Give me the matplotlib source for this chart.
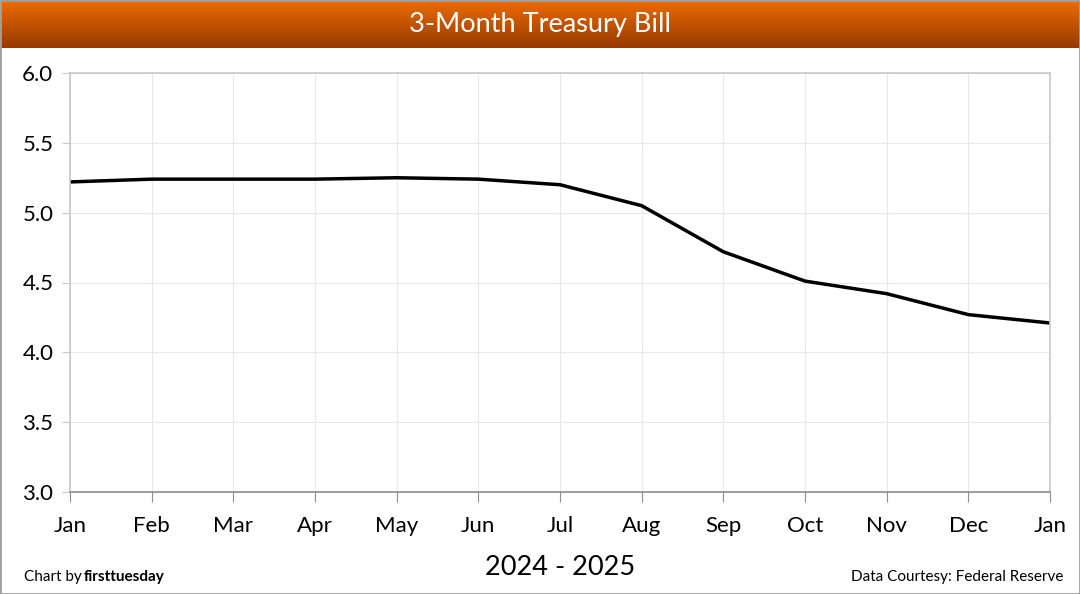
import numpy as np
import matplotlib
matplotlib.use("Agg")
import matplotlib.pyplot as plt
from matplotlib.patches import Rectangle

plt.rcParams['font.family'] = ['Lato', 'DejaVu Sans']

months = ["Jan", "Feb", "Mar", "Apr", "May", "Jun", "Jul", "Aug", "Sep", "Oct", "Nov", "Dec", "Jan"]
rates = [5.22, 5.24, 5.24, 5.24, 5.25, 5.24, 5.20, 5.05, 4.72, 4.51, 4.42, 4.27, 4.21]
yticks = [3.0, 3.5, 4.0, 4.5, 5.0, 5.5, 6.0]

W, H = 1080, 594
fig = plt.figure(figsize=(W/100, H/100), dpi=100)

# title band with orange gradient
band = fig.add_axes([0, 1 - 48/H, 1, 48/H])
grad = np.linspace(0, 1, 100).reshape(-1, 1)
top = np.array([238, 108, 0]) / 255
bot = np.array([150, 58, 0]) / 255
img = top[None, None, :] * (1 - grad[:, :, None]) + bot[None, None, :] * grad[:, :, None]
band.imshow(img, aspect="auto", extent=[0, 1, 0, 1])
band.set_axis_off()
band.text(0.5, 0.48, "3-Month Treasury Bill", color="white", fontsize=19.5,
          ha="center", va="center", transform=band.transAxes)

ax = fig.add_axes([70/W, 1 - 492/H, 980/W, 419/H])
x = np.arange(len(months))
ax.plot(x, rates, color="black", lw=2.5, solid_capstyle="round")
ax.set_xlim(0, len(months) - 1)
ax.set_ylim(3.0, 6.0)
ax.set_xticks(x)
ax.set_xticklabels(months)
ax.set_yticks(yticks)
ax.set_yticklabels(["%.1f" % v for v in yticks])
ax.grid(True, color="#e8e8e8", lw=0.8)
ax.set_axisbelow(True)
for s in ["top", "right", "left"]:
    ax.spines[s].set_color("#c8c8c8")
    ax.spines[s].set_linewidth(1.2)
ax.spines["bottom"].set_color("#8c8c8c")
ax.spines["bottom"].set_linewidth(1.2)
ax.tick_params(axis="x", length=7, color="#8c8c8c", labelsize=16, pad=10)
ax.tick_params(axis="y", length=6, color="#c8c8c8", labelsize=16, pad=6)
ax.set_xlabel("2024 - 2025", fontsize=19.5, labelpad=14)

fig.text(24/W, 1 - 577/H, "Chart by ", fontsize=11, ha="left", va="center")
fig.text(84/W, 1 - 577/H, "firsttuesday", fontsize=11, fontweight="bold", ha="left", va="center")
fig.text(1063/W, 1 - 577/H, "Data Courtesy: Federal Reserve", fontsize=11, ha="right", va="center")

fig.patches.append(Rectangle((0, 0), 1, 1, transform=fig.transFigure, fill=False,
                             edgecolor="#a0a0a0", lw=2, zorder=10))

fig.savefig("out.png", dpi=100)
